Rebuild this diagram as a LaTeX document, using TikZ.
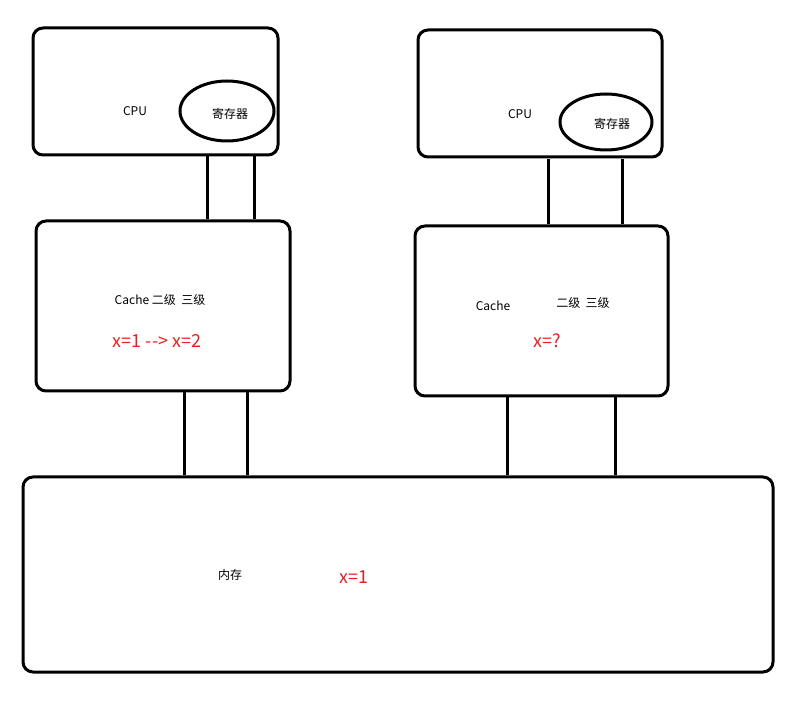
\documentclass[tikz,border=0pt]{standalone}
\usepackage{fontspec}
\setmainfont{Noto Sans CJK SC}
\usetikzlibrary{shapes.geometric}
\begin{document}
\begin{tikzpicture}[x=1pt,y=-1pt,
  box/.style={draw,line width=3pt,rounded corners=10pt,inner sep=0},
  reg/.style={draw,line width=3pt,ellipse,inner sep=0},
  link/.style={line width=3pt},
  lbl/.style={font=\fontsize{12}{14}\selectfont},
  red/.style={text={rgb,255:red,235;green,30;blue,30},font=\fontsize{18}{20}\selectfont}]
\useasboundingbox (0,0) rectangle (804,708);
\node[box,minimum width=245pt,minimum height=127pt] (cpu1) at (155.5,91.5) {};
\node[box,minimum width=244pt,minimum height=127pt] (cpu2) at (540,93.5) {};
\node[reg,minimum width=94pt,minimum height=60pt] (r1) at (227,111) {};
\node[reg,minimum width=92pt,minimum height=56pt] (r2) at (606,122) {};
\node[box,minimum width=254pt,minimum height=170pt] (c1) at (163,306) {};
\node[box,minimum width=253pt,minimum height=170pt] (c2) at (541.5,311) {};
\node[box,minimum width=750pt,minimum height=195pt] (mem) at (398,574.5) {};
\node[lbl] (t1) at (135,111) {CPU};
\node[lbl] (t2) at (230,114) {寄存器};
\node[lbl] (t3) at (520,114) {CPU};
\node[lbl] (t4) at (612,124) {寄存器};
\node[lbl] (t5) at (160,300) {Cache 二级\ \ 三级};
\node[red] (t6) at (157,341) {x=1 -{}-> x=2};
\node[lbl] (t7) at (493,306) {Cache};
\node[lbl] (t8) at (583,303) {二级\ \ 三级};
\node[red] (t9) at (547,341) {x=?};
\node[lbl] (t10) at (230,575) {内存};
\node[red] (t11) at (354,577) {x=1};
\foreach \x in {207,254} \draw[link] (cpu1.south -| \x,0) -- (c1.north -| \x,0);
\foreach \x in {548,622} \draw[link] (r2.south -| \x,0) ++(0,8) -- (c2.north -| \x,0);
\foreach \x in {184,247} \draw[link] (c1.south -| \x,0) -- (mem.north -| \x,0);
\foreach \x in {507,615} \draw[link] (c2.south -| \x,0) -- (mem.north -| \x,0);
\end{tikzpicture}
\end{document}
